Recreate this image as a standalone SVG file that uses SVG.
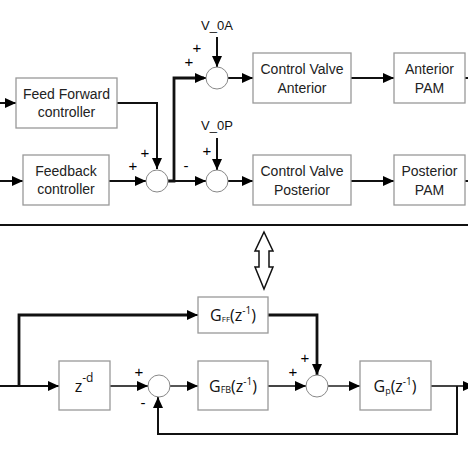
<svg xmlns="http://www.w3.org/2000/svg" width="468" height="468" viewBox="0 0 468 468">
<style>
.box{fill:#fff;stroke:#999;stroke-width:1.3}
.sum{fill:#fff;stroke:#888;stroke-width:1}
.ln{fill:none;stroke:#111;stroke-width:2}
.lnt{fill:none;stroke:#111;stroke-width:2.8}
.lng{fill:none;stroke:#444;stroke-width:1.8}
.t{font-family:"Liberation Sans",Arial,sans-serif;font-size:14px;fill:#222;text-anchor:middle}
.s{font-family:"Liberation Sans",Arial,sans-serif;font-size:13px;fill:#111;text-anchor:middle}
.p{font-family:"Liberation Sans",Arial,sans-serif;font-size:15px;fill:#000;text-anchor:middle}
.g{font-family:"Open Sans","Liberation Sans",sans-serif;font-size:16px;fill:#111;text-anchor:middle}
</style>
<defs>
<marker id="ah" markerWidth="12" markerHeight="10" refX="11" refY="5" orient="auto" markerUnits="userSpaceOnUse"><path d="M0,0 L11,5 L0,10 z" fill="#000"/></marker>
</defs>
<rect width="468" height="468" fill="#fff"/>

<g id="connectors">
<line class="ln" x1="0" y1="103" x2="16" y2="103" marker-end="url(#ah)"/>
<line class="ln" x1="0" y1="181" x2="23" y2="181" marker-end="url(#ah)"/>
<polyline class="ln" points="117,103 157,103 157,169" marker-end="url(#ah)"/>
<line class="ln" x1="109" y1="181" x2="146" y2="181" marker-end="url(#ah)"/>
<polyline class="lnt" points="168,181 174,181 174,78 204,78"/>
<line class="ln" x1="200" y1="78" x2="206" y2="78" marker-end="url(#ah)"/>
<line class="ln" x1="174" y1="181" x2="206" y2="181" marker-end="url(#ah)"/>
<line class="ln" x1="217" y1="37" x2="217" y2="67" marker-end="url(#ah)"/>
<line class="ln" x1="217" y1="138" x2="217" y2="170" marker-end="url(#ah)"/>
<line class="ln" x1="228" y1="78" x2="253" y2="78" marker-end="url(#ah)"/>
<line class="ln" x1="228" y1="181" x2="253" y2="181" marker-end="url(#ah)"/>
<line class="ln" x1="351" y1="78" x2="394" y2="78" marker-end="url(#ah)"/>
<line class="ln" x1="351" y1="181" x2="394" y2="181" marker-end="url(#ah)"/>
<line class="ln" x1="465" y1="78" x2="468" y2="78"/>
<line class="ln" x1="465" y1="181" x2="468" y2="181"/>
<line x1="0" y1="225" x2="468" y2="225" stroke="#111" stroke-width="2"/>
<path d="M264,232 L273,251 L269,251 L269,267 L273,267 L264,289 L255,267 L259,267 L259,251 L255,251 Z" fill="#fff" stroke="#111" stroke-width="1.5"/>
<line class="ln" x1="0" y1="386" x2="59" y2="386" marker-end="url(#ah)"/>
<polyline class="lnt" points="19,386 19,315 190,315"/>
<line class="ln" x1="186" y1="315" x2="198" y2="315" marker-end="url(#ah)"/>
<line class="lng" x1="110" y1="386" x2="148" y2="386" marker-end="url(#ah)"/>
<line class="lng" x1="170" y1="386" x2="198" y2="386" marker-end="url(#ah)"/>
<polyline class="lnt" points="268,315 317,315 317,375"/>
<line class="ln" x1="317" y1="365" x2="317" y2="375" marker-end="url(#ah)"/>
<line class="lng" x1="268" y1="386" x2="306" y2="386" marker-end="url(#ah)"/>
<line class="lng" x1="328" y1="386" x2="360" y2="386" marker-end="url(#ah)"/>
<line class="lng" x1="431" y1="386" x2="474" y2="386" marker-end="url(#ah)"/>
<polyline class="ln" points="457,386 457,434 158,434 158,397"/>
<line class="ln" x1="158" y1="410" x2="158" y2="397" marker-end="url(#ah)"/>
</g>

<g id="ff">
<rect class="box" x="16" y="78" width="101" height="50"/>
<text class="t" x="66.5" y="99">Feed Forward</text>
<text class="t" x="66.5" y="117">controller</text>
</g>
<g id="fb">
<rect class="box" x="23" y="155" width="86" height="50"/>
<text class="t" x="66" y="176">Feedback</text>
<text class="t" x="66" y="194">controller</text>
</g>
<g id="sum1"><circle class="sum" cx="157" cy="181" r="11"/></g>
<g id="sumA"><circle class="sum" cx="217" cy="78" r="11"/></g>
<g id="sumP"><circle class="sum" cx="217" cy="181" r="11"/></g>
<g id="cva">
<rect class="box" x="253" y="53" width="98" height="50"/>
<text class="t" x="302" y="74">Control Valve</text>
<text class="t" x="302" y="93">Anterior</text>
</g>
<g id="apam">
<rect class="box" x="394" y="53" width="71" height="50"/>
<text class="t" x="429.5" y="74">Anterior</text>
<text class="t" x="429.5" y="93">PAM</text>
</g>
<g id="cvp">
<rect class="box" x="253" y="155" width="98" height="50"/>
<text class="t" x="302" y="176">Control Valve</text>
<text class="t" x="302" y="195">Posterior</text>
</g>
<g id="ppam">
<rect class="box" x="394" y="155" width="71" height="50"/>
<text class="t" x="429.5" y="176">Posterior</text>
<text class="t" x="429.5" y="195">PAM</text>
</g>
<g id="labels-top">
<text class="s" x="217" y="30">V_0A</text>
<text class="s" x="217" y="130">V_0P</text>
<text class="p" x="197" y="53">+</text>
<text class="p" x="189" y="67">+</text>
<text class="p" x="207" y="156">+</text>
<text class="p" x="186" y="171">-</text>
<text class="p" x="145" y="158">+</text>
<text class="p" x="133" y="171">+</text>
</g>

<g id="zd">
<rect class="box" x="59" y="361" width="51" height="49"/>
<text class="g" x="84" y="392" font-size="18">z<tspan font-size="12" dy="-10">-d</tspan></text>
</g>
<g id="sum2"><circle class="sum" cx="159" cy="386" r="11"/></g>
<g id="gff">
<rect class="box" x="198" y="297" width="70" height="36"/>
<text class="g" x="233" y="321">G<tspan font-size="8" dy="1">FF</tspan><tspan dy="-1">(z</tspan><tspan font-size="10" dy="-7">-1</tspan><tspan dy="7">)</tspan></text>
</g>
<g id="gfb">
<rect class="box" x="198" y="361" width="70" height="49"/>
<text class="g" x="233" y="392" font-size="17">G<tspan font-size="9" dy="1">FB</tspan><tspan dy="-1">(z</tspan><tspan font-size="10" dy="-7">-1</tspan><tspan dy="7">)</tspan></text>
</g>
<g id="sum3"><circle class="sum" cx="317" cy="386" r="11"/></g>
<g id="gp">
<rect class="box" x="360" y="361" width="71" height="49"/>
<text class="g" x="395" y="392" font-size="17">G<tspan font-size="9" dy="2">p</tspan><tspan dy="-2">(z</tspan><tspan font-size="10" dy="-7">-1</tspan><tspan dy="7">)</tspan></text>
</g>
<g id="labels-bottom">
<text class="p" x="139" y="377">+</text>
<text class="p" x="143" y="408">-</text>
<text class="p" x="305" y="363">+</text>
<text class="p" x="293" y="377">+</text>
</g>
</svg>
